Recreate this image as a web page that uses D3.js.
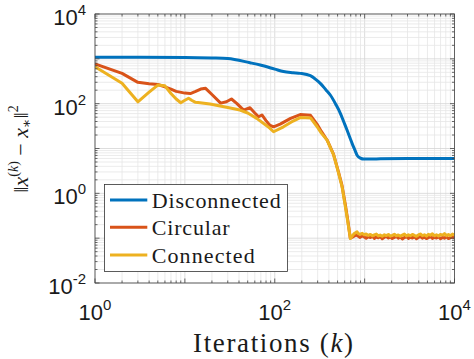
<!DOCTYPE html>
<html><head><meta charset="utf-8">
<script src="https://cdn.jsdelivr.net/npm/d3@7"></script>
<style>body{margin:0;background:#fff}
.serif{font-family:"Liberation Serif","DejaVu Serif","Times New Roman",Tinos,"Noto Serif",FreeSerif,serif}
.sans{font-family:"Liberation Sans",Arial,Helvetica,sans-serif}
</style>
</head><body>
<svg id="c" width="474" height="359"></svg>
<script>
// ---------------- data ----------------
const seriesNames = ["Disconnected", "Circular", "Connected"];
const seriesColors = ["#0072BD", "#D95319", "#EDB120"];

const disconnectedIter = [1, 10, 20, 30, 53, 69, 100, 125, 160, 192, 249, 290, 321, 370, 415, 480, 537, 590, 637, 690, 725, 780, 824, 900, 977, 1200, 1500, 3000, 10000];
const disconnectedVal  = [1080, 1075, 1050, 1020, 818, 728, 590, 520, 490, 474, 420, 340, 284, 205, 156, 95, 61, 38, 25.8, 17, 13, 9.2, 7.1, 6.1, 5.8, 5.8, 5.9, 5.95, 5.96];

const circularIter = [1, 2, 3, 4, 5, 6, 7, 8, 10, 11.5, 13, 15, 17, 20, 25, 29, 33, 38, 45, 53, 60, 66, 72, 80, 88, 97, 115, 150, 192, 250, 295, 330, 382, 450, 514, 560, 611, 654, 692];
const circularVal  = [766, 474, 299, 279, 268, 238, 212, 188, 172, 168, 185, 212, 220, 160, 103, 110, 127, 100, 72, 81, 62, 51, 56, 42, 33, 30.5, 35, 47, 57, 55, 35, 24, 15.5, 7.5, 2.9, 1.5, 0.55, 0.23, 0.1];

const connectedIter = [1, 2, 3, 4, 5, 6, 7, 8, 9, 10, 11, 12, 13, 14, 19, 30, 41, 50, 63, 80, 88, 97, 125, 160, 192, 250, 295, 330, 382, 452, 514, 561, 611, 654, 694, 760, 824];
const connectedVal  = [667, 284, 110, 180, 260, 250, 169, 127, 105, 119, 132, 118, 108, 106, 98, 82, 72, 62, 47, 33, 28.5, 23.6, 30.5, 41, 49, 48, 31, 22, 15.4, 7.2, 2.8, 1.4, 0.5, 0.213, 0.098, 0.125, 0.138];

// noisy floor after the drop
const tailIter = [730, 770, 810, 850, 890, 940, 990, 1040, 1100, 1160, 1220, 1280, 1350, 1420, 1490, 1570, 1660, 1740, 1840, 1930, 2030, 2140, 2250, 2370, 2500, 2630, 2770, 2910, 3070, 3230, 3400, 3580, 3770, 3970, 4170, 4390, 4630, 4870, 5130, 5400, 5680, 5980, 6300, 6630, 6980, 7340, 7730, 8140, 8570, 9020, 9490, 10000];
const circularTail  = [0.105, 0.112, 0.118, 0.110, 0.104, 0.113, 0.106, 0.100, 0.108, 0.103, 0.111, 0.099, 0.106, 0.102, 0.109, 0.097, 0.105, 0.110, 0.101, 0.107, 0.098, 0.104, 0.111, 0.100, 0.106, 0.096, 0.103, 0.109, 0.099, 0.105, 0.101, 0.108, 0.097, 0.104, 0.110, 0.100, 0.106, 0.098, 0.103, 0.109, 0.099, 0.105, 0.101, 0.108, 0.097, 0.104, 0.100, 0.107, 0.098, 0.103, 0.106, 0.101];
const connectedTail = [0.118, 0.128, 0.136, 0.126, 0.122, 0.128, 0.119, 0.124, 0.115, 0.121, 0.113, 0.118, 0.123, 0.112, 0.117, 0.110, 0.119, 0.114, 0.121, 0.111, 0.116, 0.122, 0.113, 0.118, 0.110, 0.117, 0.124, 0.112, 0.119, 0.113, 0.121, 0.115, 0.110, 0.118, 0.124, 0.114, 0.119, 0.111, 0.122, 0.116, 0.125, 0.113, 0.119, 0.112, 0.121, 0.117, 0.126, 0.114, 0.120, 0.113, 0.123, 0.118];

const xTickExp = [0, 2, 4];
const yTickExp = [-2, 0, 2, 4];
const xLabel = "Iterations ";
const legendWidths = [129, 78, 103];

// ---------------- layout ----------------
const L = 95, R = 454.5, T = 14, B = 283;
const svg = d3.select("#c");
const x = d3.scaleLog().domain([1, 1e4]).range([L, R]);
const y = d3.scaleLog().domain([1e-2, 1e4]).range([B, T]);

const zip = (a, b) => a.map((v, i) => [v, b[i]]);
const circTailStart = tailIter.findIndex(t => t > circularIter[circularIter.length - 1]);
const connTailStart = tailIter.findIndex(t => t > connectedIter[connectedIter.length - 1]);
const data = [
  zip(disconnectedIter, disconnectedVal),
  zip(circularIter, circularVal).concat(zip(tailIter, circularTail).slice(circTailStart)),
  zip(connectedIter, connectedVal).concat(zip(tailIter, connectedTail).slice(connTailStart))
];

// grid
const gx = [], gy = [];
for (let d = 0; d < 4; d++) for (let m = 1; m <= 9; m++) gx.push({v: m * Math.pow(10, d), major: m === 1});
gx.push({v: 1e4, major: true});
for (let d = -2; d < 4; d++) for (let m = 1; m <= 9; m++) gy.push({v: m * Math.pow(10, d), major: m === 1});
gy.push({v: 1e4, major: true});

const grid = svg.append("g");
grid.selectAll(".gx").data(gx).join("line")
  .attr("x1", d => x(d.v)).attr("x2", d => x(d.v)).attr("y1", T).attr("y2", B)
  .attr("stroke", d => d.major ? "#d4d4d4" : "#e6e6e6").attr("stroke-width", 0.8);
grid.selectAll(".gy").data(gy).join("line")
  .attr("y1", d => y(d.v)).attr("y2", d => y(d.v)).attr("x1", L).attr("x2", R)
  .attr("stroke", d => d.major ? "#d4d4d4" : "#e6e6e6").attr("stroke-width", 0.8);

// lines
svg.append("clipPath").attr("id", "clip").append("rect")
  .attr("x", L).attr("y", T).attr("width", R - L).attr("height", B - T);
const lineGen = d3.line().x(d => x(d[0])).y(d => y(d[1]));
const plot = svg.append("g").attr("clip-path", "url(#clip)");
data.forEach((s, i) => {
  plot.append("path").datum(s)
    .attr("d", i === 0 ? lineGen.curve(d3.curveMonotoneX)(s) : lineGen.curve(d3.curveLinear)(s))
    .attr("fill", "none").attr("stroke", seriesColors[i]).attr("stroke-width", 3)
    .attr("stroke-linejoin", "round");
});

// frame & ticks
const ax = svg.append("g").attr("stroke", "#444").attr("stroke-width", 0.8);
ax.append("rect").attr("x", L).attr("y", T).attr("width", R - L).attr("height", B - T).attr("fill", "none");
gx.forEach(d => {
  const len = d.major ? 4.5 : 2.5;
  ax.append("line").attr("x1", x(d.v)).attr("x2", x(d.v)).attr("y1", B).attr("y2", B - len);
  ax.append("line").attr("x1", x(d.v)).attr("x2", x(d.v)).attr("y1", T).attr("y2", T + len);
});
gy.forEach(d => {
  const len = d.major ? 4.5 : 2.5;
  ax.append("line").attr("y1", y(d.v)).attr("y2", y(d.v)).attr("x1", L).attr("x2", L + len);
  ax.append("line").attr("y1", y(d.v)).attr("y2", y(d.v)).attr("x1", R).attr("x2", R - len);
});

// tick labels
xTickExp.forEach(e => {
  const t = svg.append("text").attr("class", "sans").attr("x", x(Math.pow(10, e))).attr("y", 320)
    .attr("text-anchor", "middle").attr("font-size", 22).attr("fill", "#1a1a1a");
  t.append("tspan").text("10");
  t.append("tspan").attr("font-size", 15).attr("dy", -10).text(String(e));
});
yTickExp.forEach(e => {
  const t = svg.append("text").attr("class", "sans").attr("x", 86).attr("y", y(Math.pow(10, e)) + 11)
    .attr("text-anchor", "end").attr("font-size", 22).attr("fill", "#1a1a1a");
  t.append("tspan").text("10");
  t.append("tspan").attr("font-size", 15).attr("dy", -10).text(e < 0 ? "-" + Math.abs(e) : String(e));
});

// axis titles
const xt = svg.append("text").attr("class", "serif").attr("x", 273).attr("y", 351.5).attr("text-anchor", "middle")
  .attr("font-size", 27).attr("fill", "#1a1a1a")
  .attr("textLength", 160).attr("lengthAdjust", "spacing");
xt.append("tspan").text(xLabel + "(");
xt.append("tspan").attr("font-style", "italic").text("k");
xt.append("tspan").text(")");

const yt = svg.append("text").attr("class", "serif").attr("transform", "translate(28,149) rotate(-90)").attr("text-anchor", "middle")
  .attr("font-size", 22).attr("fill", "#1a1a1a");
yt.append("tspan").text("\u2016");
yt.append("tspan").attr("font-style", "italic").text("x");
yt.append("tspan").attr("font-size", 14).attr("dy", -10).text("(");
yt.append("tspan").attr("font-size", 14).attr("font-style", "italic").text("k");
yt.append("tspan").attr("font-size", 14).text(")");
yt.append("tspan").attr("dy", 10).text(" \u2212 ");
yt.append("tspan").attr("font-style", "italic").text("x");
yt.append("tspan").attr("font-size", 14).attr("dy", 3).text("\u2217");
yt.append("tspan").attr("dy", -3).text("\u2016");
yt.append("tspan").attr("font-size", 14).attr("dy", -10).text("2");

// legend
const lg = svg.append("g");
lg.append("rect").attr("x", 104.5).attr("y", 184.5).attr("width", 183).attr("height", 87)
  .attr("fill", "#fff").attr("stroke", "#333").attr("stroke-width", 0.8);
const rowY = [200, 227.3, 255];
seriesNames.forEach((n, i) => {
  lg.append("line").attr("x1", 110).attr("x2", 147.3).attr("y1", rowY[i]).attr("y2", rowY[i])
    .attr("stroke", seriesColors[i]).attr("stroke-width", 3);
  lg.append("text").attr("class", "serif").attr("x", 151.7).attr("y", rowY[i] + 7.6)
    .attr("font-size", 22).attr("fill", "#1a1a1a")
    .attr("textLength", legendWidths[i]).attr("lengthAdjust", "spacing").text(n);
});
</script>
</body></html>
